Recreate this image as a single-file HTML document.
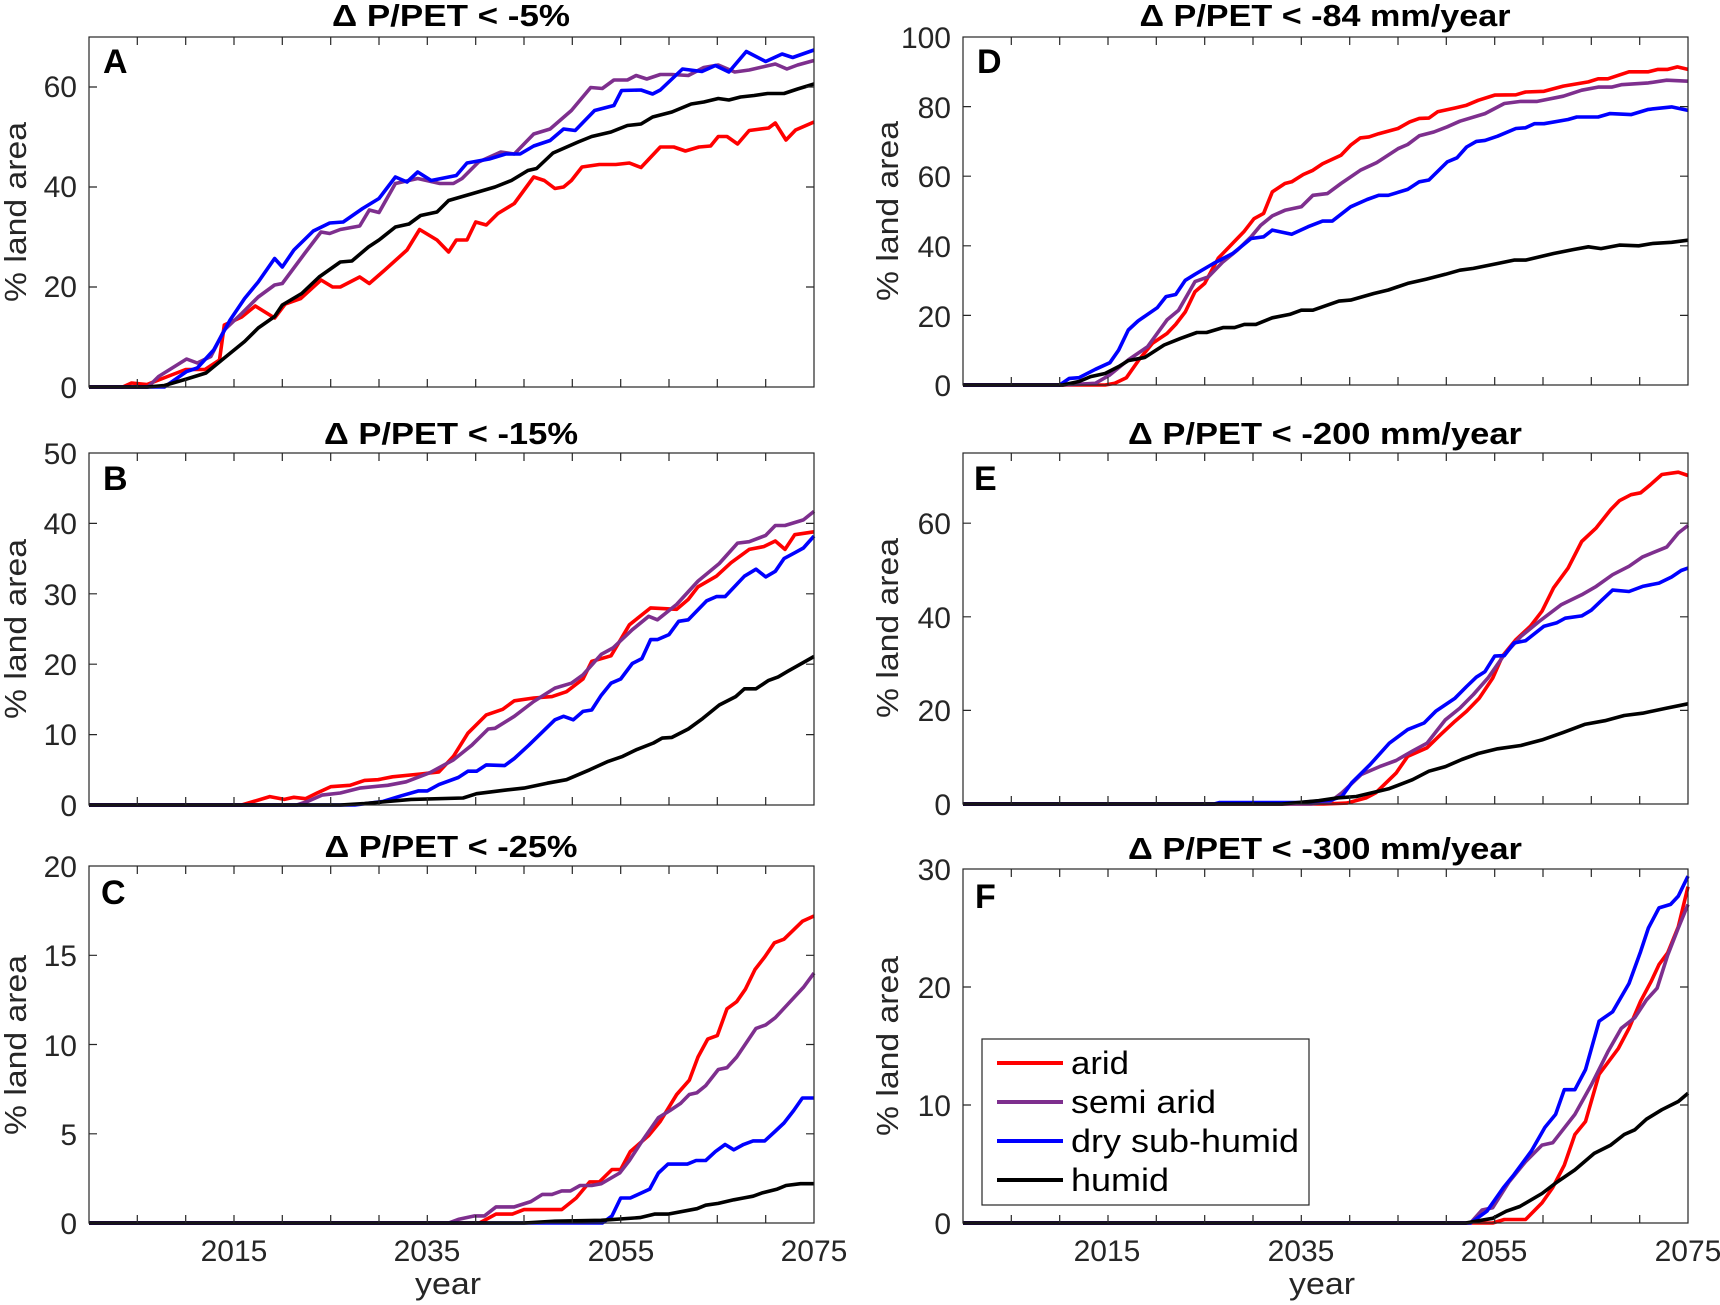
<!DOCTYPE html>
<html><head><meta charset="utf-8"><style>
html,body{margin:0;padding:0;background:#fff;}
svg{display:block;}
text{font-family:"Liberation Sans",Arial,sans-serif;fill:#262626;}
.t{font-weight:bold;font-size:31px;fill:#000;}
.k{font-size:30px;}
.l{font-weight:bold;font-size:34px;fill:#000;}
.yl{font-size:31px;}
.lg{font-size:32px;fill:#000;}
</style></head><body>
<svg id="s" width="1720" height="1305" viewBox="0 0 1720 1305" xmlns="http://www.w3.org/2000/svg">
<g id="g"></g>
<!-- titles -->
<text class="t" x="451" y="26" text-anchor="middle" textLength="238" lengthAdjust="spacingAndGlyphs">Δ P/PET &lt; -5%</text>
<text class="t" x="451" y="444" text-anchor="middle" textLength="254" lengthAdjust="spacingAndGlyphs">Δ P/PET &lt; -15%</text>
<text class="t" x="451" y="857" text-anchor="middle" textLength="253" lengthAdjust="spacingAndGlyphs">Δ P/PET &lt; -25%</text>
<text class="t" x="1325" y="26" text-anchor="middle" textLength="371" lengthAdjust="spacingAndGlyphs">Δ P/PET &lt; -84 mm/year</text>
<text class="t" x="1325" y="444" text-anchor="middle" textLength="394" lengthAdjust="spacingAndGlyphs">Δ P/PET &lt; -200 mm/year</text>
<text class="t" x="1325" y="859" text-anchor="middle" textLength="394" lengthAdjust="spacingAndGlyphs">Δ P/PET &lt; -300 mm/year</text>
<!-- panel letters -->
<text class="l" x="103" y="73">A</text>
<text class="l" x="103" y="490">B</text>
<text class="l" x="101" y="904">C</text>
<text class="l" x="977" y="73">D</text>
<text class="l" x="974" y="490">E</text>
<text class="l" x="975" y="908">F</text>
<!-- y labels -->
<text class="yl" transform="translate(26,212) rotate(-90)" text-anchor="middle" textLength="180" lengthAdjust="spacingAndGlyphs">% land area</text>
<text class="yl" transform="translate(26,629) rotate(-90)" text-anchor="middle" textLength="180" lengthAdjust="spacingAndGlyphs">% land area</text>
<text class="yl" transform="translate(26,1045) rotate(-90)" text-anchor="middle" textLength="180" lengthAdjust="spacingAndGlyphs">% land area</text>
<text class="yl" transform="translate(898,211) rotate(-90)" text-anchor="middle" textLength="180" lengthAdjust="spacingAndGlyphs">% land area</text>
<text class="yl" transform="translate(898,628) rotate(-90)" text-anchor="middle" textLength="180" lengthAdjust="spacingAndGlyphs">% land area</text>
<text class="yl" transform="translate(898,1046) rotate(-90)" text-anchor="middle" textLength="180" lengthAdjust="spacingAndGlyphs">% land area</text>
<!-- y tick labels -->
<g class="k" text-anchor="end">
<text x="77" y="398">0</text><text x="77" y="297">20</text><text x="77" y="197">40</text><text x="77" y="97">60</text>
<text x="77" y="816">0</text><text x="77" y="745">10</text><text x="77" y="675">20</text><text x="77" y="605">30</text><text x="77" y="534">40</text><text x="77" y="464">50</text>
<text x="77" y="1234">0</text><text x="77" y="1145">5</text><text x="77" y="1056">10</text><text x="77" y="966">15</text><text x="77" y="877">20</text>
<text x="951" y="396">0</text><text x="951" y="327">20</text><text x="951" y="257">40</text><text x="951" y="187">60</text><text x="951" y="118">80</text><text x="951" y="48">100</text>
<text x="951" y="815">0</text><text x="951" y="721">20</text><text x="951" y="628">40</text><text x="951" y="534">60</text>
<text x="951" y="1234">0</text><text x="951" y="1116">10</text><text x="951" y="998">20</text><text x="951" y="880">30</text>
</g>
<!-- x tick labels -->
<g class="k" text-anchor="middle">
<text x="234" y="1261">2015</text><text x="427" y="1261">2035</text><text x="621" y="1261">2055</text><text x="814" y="1261">2075</text>
<text x="1107" y="1261">2015</text><text x="1301" y="1261">2035</text><text x="1494" y="1261">2055</text><text x="1688" y="1261">2075</text>
</g>
<text class="yl" x="448" y="1294" text-anchor="middle" textLength="66" lengthAdjust="spacingAndGlyphs">year</text>
<text class="yl" x="1322" y="1294" text-anchor="middle" textLength="66" lengthAdjust="spacingAndGlyphs">year</text>
<!-- legend -->
<rect x="982" y="1039" width="327" height="166" fill="#fff" stroke="#262626" stroke-width="1.2"/>
<line x1="997" y1="1063" x2="1063" y2="1063" stroke="#ff0000" stroke-width="4"/>
<line x1="997" y1="1102" x2="1063" y2="1102" stroke="#7e2f8e" stroke-width="4"/>
<line x1="997" y1="1141" x2="1063" y2="1141" stroke="#0000ff" stroke-width="4"/>
<line x1="997" y1="1180" x2="1063" y2="1180" stroke="#000000" stroke-width="4"/>
<text class="lg" x="1071" y="1074" textLength="58" lengthAdjust="spacingAndGlyphs">arid</text>
<text class="lg" x="1071" y="1113" textLength="145" lengthAdjust="spacingAndGlyphs">semi arid</text>
<text class="lg" x="1071" y="1152" textLength="228" lengthAdjust="spacingAndGlyphs">dry sub-humid</text>
<text class="lg" x="1071" y="1191" textLength="98" lengthAdjust="spacingAndGlyphs">humid</text>
</svg>
<script>
var P={
A:{L:89,R:814,T:37,B:387,ym:70,yt:[0,20,40,60],s:{
r:[[2003.5,0],[2004.4,0.8],[2006,0.5],[2008,2],[2010,3.5],[2012,3.5],[2013.5,5.4],[2014,12.4],[2015.8,14],[2017.2,16.2],[2019.2,13.8],[2020.3,16.6],[2021.9,17.7],[2024,21.4],[2025.2,20],[2026,20],[2028,22],[2029,20.7],[2030.6,23.4],[2032.9,27.4],[2034.2,31.5],[2036,29.4],[2037.2,27],[2038,29.4],[2039.1,29.4],[2040,33],[2041.1,32.4],[2042.3,34.7],[2044,36.7],[2046,42],[2047.1,41.3],[2048.2,39.7],[2049.1,40],[2049.9,41.3],[2051,44],[2052.8,44.5],[2054.5,44.5],[2055.9,44.8],[2057.1,43.9],[2059.1,48],[2060.5,48],[2061.7,47.2],[2063.1,48],[2064.3,48.2],[2065.1,50.1],[2066,50.1],[2067.1,48.6],[2068.3,51.3],[2070.3,51.8],[2071,52.8],[2072.1,49.4],[2073.1,51.4],[2075,53]],
p:[[2004.5,0],[2006.1,0],[2007.2,2.1],[2010.1,5.6],[2011.2,4.8],[2012.6,6.1],[2014,11.4],[2015.8,14.7],[2017.5,18],[2019.2,20.4],[2020,20.7],[2022.3,26.7],[2024,31],[2024.9,30.7],[2026,31.5],[2028,32.2],[2029,35.4],[2030,34.9],[2031.7,40.7],[2034,41.7],[2036.3,40.7],[2037.7,40.7],[2038.6,41.7],[2040.3,45],[2042.6,47],[2044,46.6],[2046,50.6],[2047.7,51.6],[2049.9,55.3],[2051.9,59.9],[2053.1,59.7],[2054.3,61.4],[2055.7,61.4],[2056.6,62.3],[2057.7,61.6],[2059.1,62.5],[2060.3,62.5],[2062,62.3],[2063.6,63.9],[2065.1,64.4],[2066.8,63],[2068.3,63.4],[2071,64.6],[2072.2,63.6],[2073.3,64.4],[2075,65.3]],
b:[[2007.8,0],[2010.1,3.1],[2011.2,3.8],[2012.9,7.4],[2014.6,13.4],[2016.1,17.7],[2017.5,21],[2019.2,25.7],[2020,24],[2021.2,27.4],[2023.2,31.2],[2024.9,32.8],[2026.3,33],[2028.3,35.7],[2030,37.7],[2031.7,42],[2032.9,41],[2034,43],[2035.4,41.3],[2038,42.3],[2039.1,44.8],[2041.4,45.6],[2043.1,46.6],[2044.6,46.6],[2046,48.2],[2047.7,49.3],[2049.1,51.6],[2050.3,51.3],[2052.3,55.3],[2054.3,56.3],[2055.1,59.3],[2057.1,59.4],[2058.3,58.6],[2059.1,59.4],[2061.4,63.6],[2063.4,63.1],[2064.8,64.3],[2066.2,63],[2068,67.1],[2070,65.1],[2071.7,66.6],[2072.8,65.9],[2075,67.4]],
k:[[2006,0],[2007.8,0.3],[2010.1,1.6],[2012.1,2.8],[2014,5.8],[2016.1,9.1],[2017.5,11.8],[2019.2,14.1],[2020,16.4],[2022,18.7],[2023.8,22],[2026,25],[2027.2,25.2],[2028.9,28],[2030,29.4],[2031.7,32],[2033.1,32.6],[2034.3,34.3],[2036,35],[2037.2,37.3],[2039.7,38.7],[2042,40],[2043.7,41.3],[2045.4,43.3],[2046.3,43.7],[2048,46.8],[2050.6,49],[2052,50.1],[2054,51],[2055.7,52.3],[2057.1,52.6],[2058.3,54],[2060.3,55],[2062.3,56.6],[2063.6,57],[2065.1,57.7],[2066.2,57.4],[2067.4,58],[2068.8,58.3],[2070.2,58.7],[2071.9,58.7],[2073.3,59.6],[2075,60.6]]}},
B:{L:89,R:814,T:453,B:805,ym:50,yt:[0,10,20,30,40,50],s:{
r:[[2015.8,0],[2018.7,1.2],[2020.2,0.8],[2021.2,1.1],[2022.4,0.9],[2023.6,1.7],[2025,2.6],[2027,2.8],[2028.5,3.5],[2029.9,3.6],[2031.4,4],[2034.3,4.4],[2036.2,4.7],[2037.7,6.9],[2039.2,10.2],[2041.1,12.8],[2042.8,13.6],[2044,14.8],[2046,15.2],[2047.9,15.4],[2049.4,16.1],[2051.1,17.9],[2052,20.4],[2054,21.2],[2055.9,25.6],[2058.1,28],[2060.8,27.8],[2062,29.2],[2063,31],[2064.9,32.5],[2066.4,34.4],[2068.3,36.3],[2069.8,36.7],[2071,37.5],[2072,36.3],[2073,38.4],[2075,38.8]],
p:[[2021.5,0],[2022.6,0.5],[2024.1,1.4],[2026,1.7],[2028,2.4],[2030.9,2.8],[2032.8,3.3],[2035.3,4.6],[2037.7,6.4],[2039.6,8.5],[2041.3,10.8],[2042,10.9],[2044,12.6],[2046,14.7],[2048.2,16.6],[2049.9,17.3],[2051.1,18.5],[2053,21.4],[2054.2,22.3],[2056.2,24.9],[2057.9,26.8],[2058.8,26.3],[2060.8,28.5],[2063,31.8],[2065.2,34.3],[2067.1,37.2],[2068.3,37.4],[2070,38.3],[2071,39.7],[2072,39.7],[2073.9,40.5],[2075,41.7]],
b:[[2027.5,0],[2030.4,0.5],[2032.3,1.3],[2034.1,2],[2035,2],[2036.2,2.9],[2038.2,3.9],[2039.2,4.8],[2040.1,4.8],[2041.1,5.7],[2043,5.6],[2044,6.6],[2045.5,8.5],[2048.2,12.1],[2049.1,12.6],[2050.1,12.1],[2051.1,13.3],[2052,13.5],[2053,15.6],[2054,17.3],[2055,17.9],[2056.2,20.1],[2057.2,20.8],[2058.1,23.5],[2058.8,23.5],[2060,24.2],[2061,26.1],[2062,26.3],[2063.9,29],[2064.9,29.6],[2065.8,29.6],[2067.8,32.5],[2069,33.5],[2070,32.4],[2071,33.2],[2071.9,35],[2073.1,35.9],[2073.9,36.5],[2075,38.2]],
k:[[2026,0],[2028.5,0.2],[2030.9,0.5],[2033.3,0.8],[2038.7,1],[2040.1,1.6],[2043,2.1],[2045,2.4],[2047.4,3.1],[2049.4,3.6],[2051.8,5],[2053.7,6.2],[2055.2,6.9],[2056.7,7.9],[2058.4,8.8],[2059.3,9.5],[2060.3,9.6],[2062,10.8],[2063.5,12.3],[2065.2,14.2],[2066.9,15.4],[2067.8,16.5],[2069,16.5],[2070.3,17.7],[2071.3,18.2],[2072.3,19],[2073.2,19.7],[2075,21.1]]}},
C:{L:89,R:814,T:866,B:1223,ym:20,yt:[0,5,10,15,20],s:{
r:[[2040.4,0],[2042.1,0.5],[2043.8,0.5],[2045,0.75],[2048.9,0.75],[2050.4,1.4],[2051.8,2.3],[2052.8,2.3],[2054.1,3],[2055,3],[2056,4],[2057.9,4.9],[2059.1,5.7],[2060.8,7.2],[2062.1,8],[2063,9.3],[2064,10.3],[2065,10.5],[2066,12],[2067,12.4],[2067.9,13.1],[2068.9,14.2],[2069.9,14.9],[2070.9,15.7],[2071.9,15.9],[2073.8,16.9],[2075,17.2]],
p:[[2037.2,0],[2038.2,0.2],[2039.9,0.4],[2040.9,0.4],[2042.1,0.9],[2044,0.9],[2045.7,1.2],[2046.9,1.6],[2047.9,1.6],[2048.9,1.8],[2049.8,1.8],[2050.8,2.1],[2052,2.1],[2053,2.2],[2054.9,2.8],[2055.9,3.5],[2057.1,4.5],[2058.9,5.9],[2060.1,6.3],[2061.2,6.7],[2062.1,7.2],[2062.9,7.3],[2063.8,7.7],[2065.1,8.6],[2066,8.7],[2067,9.3],[2069,10.9],[2070,11.1],[2071,11.5],[2072.2,12.2],[2073.9,13.2],[2075,14]],
b:[[2053.1,0],[2054.1,0.4],[2055,1.4],[2056,1.4],[2058,1.9],[2058.9,2.8],[2059.9,3.3],[2061.9,3.3],[2062.8,3.5],[2063.8,3.5],[2064.8,4],[2065.8,4.4],[2066.7,4.1],[2067.7,4.4],[2068.7,4.6],[2069.9,4.6],[2070.9,5.1],[2071.9,5.6],[2072.9,6.3],[2073.8,7],[2075,7]],
k:[[2045,0],[2048.2,0.1],[2053,0.15],[2057,0.3],[2058.5,0.5],[2059.9,0.5],[2062.9,0.8],[2063.8,1],[2065.1,1.1],[2066.7,1.3],[2067.7,1.4],[2068.7,1.5],[2069.7,1.7],[2071.2,1.9],[2072.1,2.1],[2073.6,2.2],[2075,2.2]]}},
D:{L:963,R:1688,T:37,B:385,ym:100,yt:[0,20,40,60,80,100],s:{
r:[[2014.7,0],[2015.7,0.5],[2016.9,2.1],[2018.2,7.2],[2019.6,12],[2021.1,14.8],[2022,17.4],[2023,21],[2024,26.8],[2025,29.2],[2026.4,36.4],[2028.2,41.6],[2029.1,44.2],[2030.1,47.8],[2031.1,49.3],[2032,55.5],[2033.3,57.9],[2034,58.4],[2035.2,60.5],[2036.2,61.7],[2037.2,63.6],[2039.1,66],[2040.1,68.9],[2041.1,71],[2042,71.3],[2043,72.2],[2045,73.7],[2046.2,75.6],[2047.2,76.6],[2048.2,76.7],[2049.1,78.5],[2050.9,79.6],[2052.1,80.4],[2053.3,81.8],[2055,83.3],[2057.2,83.4],[2058.2,84.2],[2060.1,84.4],[2062.1,85.9],[2064.7,87.1],[2065.7,88],[2066.7,88],[2068.9,90],[2070.9,90],[2071.9,90.7],[2072.9,90.7],[2073.9,91.4],[2075,90.7]],
p:[[2010.3,0],[2013.7,0.5],[2015.2,2.9],[2017.1,7.2],[2019.1,11],[2021.1,18.7],[2022.3,21.5],[2024,29.7],[2025.4,31.1],[2026.9,35.4],[2028.4,38.8],[2029.8,42.6],[2030.8,45.9],[2032,48.6],[2033.3,50.2],[2035,51.2],[2036.2,54.5],[2037.7,55],[2039.1,57.9],[2041.1,61.7],[2042.8,63.9],[2045,67.9],[2046,69.1],[2047.2,71.6],[2048.7,72.7],[2050.1,74.2],[2051.4,75.8],[2054,78],[2056,80.9],[2057.7,81.5],[2059.4,81.5],[2062.1,83],[2064,84.7],[2065.7,85.6],[2067.1,85.6],[2068.1,86.3],[2070.9,86.8],[2072.8,87.6],[2075,87.3]],
b:[[2010,0],[2011,1.9],[2012,2.1],[2013.7,4.5],[2015.2,6.4],[2016.1,10],[2017.1,15.8],[2018.1,18.4],[2020.1,22.2],[2021,25.4],[2022,26],[2023,30.1],[2024,31.8],[2025.9,34.9],[2027.9,37.8],[2029.8,42.1],[2031.1,42.6],[2032,44.5],[2034,43.3],[2035.7,45.5],[2037.2,47.1],[2038.2,47.1],[2040.1,51.2],[2041.8,53.3],[2043,54.5],[2044,54.5],[2046,56.2],[2047.2,58.4],[2048.2,58.9],[2050.1,64.1],[2051.1,65.3],[2052.1,68.4],[2053.1,70],[2054,70.3],[2055.3,71.5],[2057.2,73.7],[2058.2,73.9],[2059.1,75.1],[2060.1,75.1],[2062.6,76.3],[2063.5,77],[2065.7,77],[2066.9,78],[2069.1,77.7],[2070.9,79.2],[2073.3,79.9],[2075,78.9]],
k:[[2010.3,0],[2012,1],[2013.2,2.4],[2014.7,3.3],[2016.1,5.3],[2017.1,7],[2018.8,7.9],[2020.8,11.5],[2022.5,13.4],[2024.2,15.1],[2025.2,15.1],[2026.9,16.5],[2028.1,16.5],[2029.1,17.4],[2030.3,17.4],[2032,19.3],[2033.8,20.3],[2035,21.5],[2036.2,21.5],[2038.9,24.1],[2040.1,24.4],[2042.5,26.3],[2044,27.3],[2046,29.2],[2047.9,30.4],[2049.9,31.8],[2051.4,33],[2052.8,33.5],[2055.3,34.9],[2057,35.9],[2058.2,35.9],[2061.1,37.8],[2063.1,38.9],[2064.7,39.7],[2066,39.2],[2067.9,40.2],[2069.9,40],[2071.4,40.7],[2073.3,41],[2075,41.6]]}},
E:{L:963,R:1688,T:453,B:804,ym:75,yt:[0,20,40,60],s:{
b:[[2026,0],[2026.5,0.3],[2034.8,0.3],[2036.5,0.6],[2038,0.8],[2039.2,1.6],[2040.2,4.5],[2042.1,8.4],[2044.1,13],[2046,15.9],[2047.7,17.3],[2048.9,19.8],[2050.9,22.6],[2052.1,25.1],[2053.1,27.1],[2054,28.3],[2055,31.6],[2056,31.7],[2057,34.4],[2058.2,34.9],[2060.1,38],[2061.4,38.7],[2062.3,39.7],[2064,40.2],[2065,41.4],[2066,43.4],[2067.2,45.7],[2068.9,45.4],[2070.3,46.5],[2072,47.2],[2073.3,48.5],[2074.3,49.9],[2075,50.4]],
p:[[2036,0],[2038,0.5],[2039.2,2.4],[2041.2,6.3],[2043.1,8],[2044.8,9.3],[2046.5,11.3],[2048,13],[2049.9,18],[2051.4,20.5],[2052.8,23.4],[2054.3,26.9],[2056,31.9],[2057.7,35.8],[2059.6,39],[2061.9,42.6],[2064,44.7],[2065.5,46.5],[2067.2,49],[2068.9,50.8],[2070.3,52.8],[2072.8,54.9],[2074,57.9],[2075,59.5]],
r:[[2037.3,0],[2039.7,0.2],[2041.7,1.3],[2042.7,2.4],[2044.8,6.6],[2046,10.2],[2048,12],[2049.4,14.8],[2050.9,17.7],[2052.1,19.8],[2053.4,22.6],[2054.8,26.9],[2055.8,31.6],[2057.2,35.1],[2058.7,38],[2059.9,41.2],[2061.1,46.2],[2062.6,50.4],[2064,56.1],[2065.5,59],[2067,62.9],[2067.9,64.8],[2069.1,66.1],[2070.1,66.5],[2071.1,68.2],[2072.3,70.4],[2074,70.9],[2075,70.2]],
k:[[2033,0],[2036.8,0.7],[2038.7,1.3],[2040.7,1.6],[2044.1,3.3],[2046.5,5.2],[2048.2,7],[2049.9,8],[2051.6,9.5],[2053.3,10.8],[2055.3,11.8],[2057.7,12.5],[2059.9,13.7],[2062.1,15.3],[2064.3,17],[2066.4,17.8],[2068.4,18.9],[2070.3,19.4],[2072.8,20.5],[2075,21.4]]}},
F:{L:963,R:1688,T:869,B:1223,ym:30,yt:[0,10,20,30],s:{
r:[[2054.8,0],[2056,0.3],[2058.2,0.3],[2059.9,1.7],[2061,3],[2062.2,4.9],[2063.3,7.5],[2064.4,8.6],[2065.8,12.6],[2067.8,14.8],[2068.9,16.5],[2070.1,18.8],[2071.2,20.5],[2072,21.9],[2072.9,22.9],[2074,25.1],[2075,28.5]],
p:[[2052.5,0],[2053.7,1.1],[2054.8,1.3],[2056.5,3.5],[2058.2,5.2],[2059.9,6.6],[2061,6.8],[2063.3,9.2],[2065,11.7],[2066.7,14.5],[2068.1,16.5],[2069.5,17.4],[2070.7,18.9],[2071.8,19.9],[2072.9,22.7],[2074,25],[2075,27]],
b:[[2052.5,0],[2054.2,1],[2055.9,3],[2057,4.1],[2058.8,6.1],[2060.2,8.1],[2061.3,9.2],[2062.2,11.3],[2063.3,11.3],[2064.4,13],[2065.8,17.1],[2067.2,17.9],[2068.9,20.3],[2070.1,23],[2070.9,25],[2072,26.7],[2073.2,27],[2074,27.7],[2075,29.4]],
k:[[2052,0],[2054.8,0.4],[2056.2,1],[2057.6,1.4],[2059.9,2.5],[2061.5,3.5],[2063.3,4.5],[2065.3,5.9],[2067,6.6],[2068.4,7.5],[2069.5,7.9],[2070.7,8.8],[2072.3,9.6],[2074,10.3],[2075,11]]}}
};
var C={r:"#ff0000",p:"#7e2f8e",b:"#0000ff",k:"#000000"};
var out="";
for(var n in P){var p=P[n],W=p.R-p.L,H=p.B-p.T;
 function X(y){return (p.L+(y-2000)/75*W).toFixed(1);}
 function Y(v){return (p.B-v/p.ym*H).toFixed(1);}
 out+='<rect x="'+p.L+'" y="'+p.T+'" width="'+W+'" height="'+H+'" fill="#fff"/>';
 ["r","p","b","k"].forEach(function(c){var d=p.s[c].slice();d.unshift([2000,0]);
  out+='<polyline fill="none" stroke="'+C[c]+'" stroke-width="3.6" stroke-linejoin="round" points="'+d.map(function(q){return X(q[0])+","+Y(q[1]);}).join(" ")+'"/>';});
 var t="";
 for(var y=2005;y<2075;y+=5){var x=X(y);t+="M"+x+" "+p.B+"v-8M"+x+" "+p.T+"v8";}
 p.yt.forEach(function(v){if(v>0&&v<p.ym){var yy=Y(v);t+="M"+p.L+" "+yy+"h8M"+p.R+" "+yy+"h-8";}});
 out+='<path d="'+t+'" stroke="#262626" stroke-width="1.2" fill="none"/>';
 out+='<rect x="'+p.L+'" y="'+p.T+'" width="'+W+'" height="'+H+'" fill="none" stroke="#262626" stroke-width="1.2"/>';
}
document.getElementById("g").innerHTML=out;
</script>
</body></html>
